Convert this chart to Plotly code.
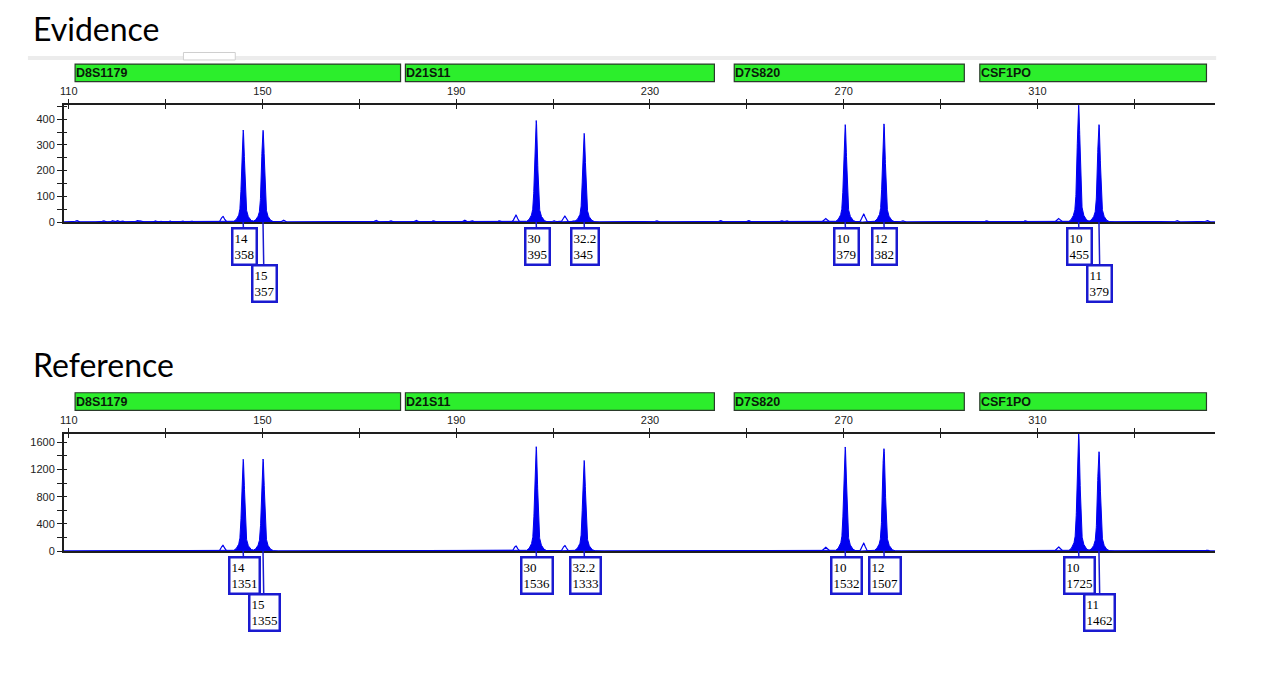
import numpy as np
import plotly.graph_objects as go

# ---------------- data ----------------
panels = ["Evidence", "Reference"]

markers = ["D8S1179", "D21S11", "D7S820", "CSF1PO"]
marker_start = [111.3, 179.5, 247.4, 298.1]
marker_end = [178.5, 243.3, 294.9, 344.9]

alleles = ["14", "15", "30", "32.2", "10", "12", "10", "11"]
allele_size = [146.0, 150.1, 206.5, 216.4, 270.3, 278.3, 318.5, 322.7]
evidence_height = [358, 357, 395, 345, 379, 382, 455, 379]
reference_height = [1351, 1355, 1536, 1333, 1532, 1507, 1725, 1462]

stutter_size = [141.8, 202.3, 212.4, 266.2, 274.1, 314.3]
evidence_stutter = [22, 27, 23, 14, 31, 14]
reference_stutter = [85, 75, 82, 58, 115, 62]

evidence_noise_size = [111.6, 117.2, 119.0, 120.0, 121.0, 124.1, 124.8, 127.8,
                       128.9, 130.9, 133.5, 135.4, 154.3, 173.4, 176.5, 181.7,
                       185.3, 191.7, 193.2, 198.9, 210.2, 211.2, 214.3, 231.4,
                       244.5, 250.3, 257.2, 258.2, 282.2, 299.5, 307.5, 338.8,
                       345.0]
evidence_noise = [6, 5, 6, 6, 5, 6, 5, 5, 4, 4, 4, 4, 8, 7, 5, 7, 5, 8, 5, 5,
                  5, 4, 5, 5, 6, 6, 5, 5, 5, 5, 5, 6, 6]
reference_noise_size = [345.0]
reference_noise = [14]

x_major = [110, 150, 190, 230, 270, 310]
x_minor = [130, 170, 210, 250, 290, 330]
evidence_ymajor = [0, 100, 200, 300, 400]
evidence_yminor = [50, 150, 250, 350, 450]
reference_ymajor = [0, 400, 800, 1200, 1600]
reference_yminor = [200, 600, 1000, 1400]

# ---------------- styling ----------------
W, H = 1274, 674
BLUE = "#0000f0"
BOX_BLUE = "#1a1ad0"
GREEN = "#2cee2c"
AXIS = "#1e1e1e"
TICKFONT = dict(family="Liberation Sans, Arial, sans-serif", size=11, color="#222")

X_RANGE = [108.97, 346.7]
x_dom = [60 / W, 1215 / W]
# plot areas (pixel rows: axis line top, zero baseline)
rows = [(106, 224), (437.7, 556)]

grid = np.arange(X_RANGE[0], X_RANGE[1], 0.02)


def gauss(c, h, s):
    return h * np.exp(-0.5 * ((grid - c) / s) ** 2)


def called_signal(heights):
    y = np.zeros_like(grid)
    for c, h in zip(allele_size, heights):
        y += 0.86 * gauss(c, h, 0.28) + 0.14 * gauss(c, h, 0.8)
    return y


def small_signal(sizes, heights, s):
    y = np.zeros_like(grid)
    for c, h in zip(sizes, heights):
        y += gauss(c, h, s)
    return y


fig = go.Figure()

panel_data = [
    (evidence_height, evidence_stutter, evidence_noise_size, evidence_noise,
     evidence_ymajor, evidence_yminor),
    (reference_height, reference_stutter, reference_noise_size, reference_noise,
     reference_ymajor, reference_yminor),
]

annotations = []
shapes = []

for i, (heights, stut, nsz, nh, ymaj, ymin) in enumerate(panel_data):
    xa = "x" if i == 0 else "x2"
    ya = "y" if i == 0 else "y2"
    xo = "x3" if i == 0 else "x4"
    yo = "y3" if i == 0 else "y4"
    top_px, base_px = rows[i]
    ymax = max(heights)

    # baseline signal (stutter + noise), outline only
    other = small_signal(stutter_size, stut, 0.32) + small_signal(nsz, nh, 0.22)
    fig.add_trace(go.Scatter(x=grid, y=other, xaxis=xa, yaxis=ya, mode="lines",
                             line=dict(color=BLUE, width=1.2), hoverinfo="skip",
                             showlegend=False))
    # called allele peaks, filled
    fig.add_trace(go.Scatter(x=grid, y=called_signal(heights), xaxis=xa, yaxis=ya,
                             mode="lines", fill="tozeroy", fillcolor=BLUE,
                             line=dict(color=BLUE, width=1), hoverinfo="skip",
                             showlegend=False))
    # invisible traces for the overlaid tick axes
    fig.add_trace(go.Scatter(x=[X_RANGE[0]], y=[0], xaxis=xo, yaxis=ya, mode="markers",
                             marker=dict(opacity=0), hoverinfo="skip", showlegend=False))
    fig.add_trace(go.Scatter(x=[X_RANGE[0]], y=[0], xaxis=xa, yaxis=yo, mode="markers",
                             marker=dict(opacity=0), hoverinfo="skip", showlegend=False))

    ydom = [(H - base_px) / H, (H - top_px) / H]
    ax_common = dict(showgrid=False, zeroline=False, fixedrange=True)

    fig.layout[("xaxis" if i == 0 else "xaxis2")] = dict(
        domain=x_dom, range=X_RANGE, anchor=ya, side="top", showline=True,
        linecolor=AXIS, linewidth=1.6, mirror=True, ticks="outside", ticklen=4,
        tickwidth=1.3, tickcolor=AXIS, tickmode="array", tickvals=x_major,
        ticktext=[str(v) for v in x_major], tickfont=TICKFONT, layer="above traces",
        minor=dict(tickmode="array", tickvals=x_minor, ticks="outside", ticklen=4,
                   tickwidth=1.3, tickcolor=AXIS, showgrid=False),
        **ax_common)
    fig.layout[("xaxis3" if i == 0 else "xaxis4")] = dict(
        overlaying=xa, range=X_RANGE, anchor=ya, side="top", showline=False,
        ticks="inside", ticklen=4, tickwidth=1.3, tickcolor=AXIS, tickmode="array",
        tickvals=x_major, showticklabels=False,
        minor=dict(tickmode="array", tickvals=x_minor, ticks="inside", ticklen=4,
                   tickwidth=1.3, tickcolor=AXIS, showgrid=False),
        **ax_common)
    fig.layout[("yaxis" if i == 0 else "yaxis2")] = dict(
        domain=ydom, range=[0, ymax], anchor=xa, showline=True, linecolor=AXIS,
        linewidth=1.6, ticks="outside", ticklen=5, tickwidth=1.3, tickcolor=AXIS,
        tickmode="array", tickvals=ymaj, ticktext=[str(v) for v in ymaj],
        tickfont=TICKFONT, layer="above traces",
        minor=dict(tickmode="array", tickvals=ymin, ticks="outside", ticklen=5,
                   tickwidth=1.3, tickcolor=AXIS, showgrid=False),
        **ax_common)
    fig.layout[("yaxis3" if i == 0 else "yaxis4")] = dict(
        overlaying=ya, range=[0, ymax], anchor=xa, showline=False,
        ticks="inside", ticklen=3, tickwidth=1.3, tickcolor=AXIS, tickmode="array",
        tickvals=ymaj + ymin, showticklabels=False, **ax_common)

    # panel title
    title_px = 28.5 if i == 0 else 367.5
    annotations.append(dict(text=panels[i], xref="paper", yref="paper",
                            x=27 / W, y=(H - title_px) / H, xanchor="left",
                            yanchor="middle", showarrow=False,
                            font=dict(family="Lato, Open Sans, sans-serif", size=32,
                                      color="#000")))

    # marker bins (green bars above the axis)
    for name, s, e in zip(markers, marker_start, marker_end):
        shapes.append(dict(type="rect", xref=xa, yref=f"{ya} domain",
                           x0=s, x1=e, y0=1.2, y1=1.35, fillcolor=GREEN,
                           line=dict(color="#2a3a2a", width=1.2), layer="above"))
        annotations.append(dict(text=f"<b>{name}</b>", xref=xa, yref=f"{ya} domain",
                                x=s, y=1.275, xanchor="left", yanchor="middle",
                                showarrow=False, xshift=-1,
                                font=dict(family="Liberation Sans, Arial", size=12.5,
                                          color="#0a1a0a")))

    # allele call boxes
    prev = None
    for lab, sz, h in zip(alleles, allele_size, heights):
        tier = 1 if (prev is not None and sz - prev < 6) else 0
        prev = sz if tier == 0 else None
        annotations.append(dict(
            text=f"{lab}<br>{h}", x=sz, y=0, xref=xa, yref=ya, showarrow=True,
            arrowhead=0, arrowwidth=1.5, arrowcolor=BOX_BLUE, ax=1,
            ay=24 if tier == 0 else 61, align="left", bgcolor="white",
            bordercolor=BOX_BLUE, borderwidth=2.5, borderpad=1,
            font=dict(family="Liberation Serif, Times New Roman, serif", size=13,
                      color="#000")))

# grey window strip at the very top of the evidence screenshot
shapes.append(dict(type="rect", xref="paper", yref="paper", x0=24 / W, x1=1216 / W,
                   y0=(H - 60.5) / H, y1=(H - 56.5) / H, fillcolor="#ececec",
                   line=dict(width=0), layer="below"))
shapes.append(dict(type="rect", xref="paper", yref="paper", x0=180 / W, x1=232 / W,
                   y0=(H - 60.5) / H, y1=(H - 53) / H, fillcolor="white",
                   line=dict(color="#cfcfcf", width=1), layer="below"))

fig.update_layout(width=W, height=H, margin=dict(l=0, r=0, t=0, b=0),
                  paper_bgcolor="white", plot_bgcolor="white", showlegend=False,
                  annotations=annotations, shapes=shapes)

fig.write_html("out.html", config={"displayModeBar": False},
               post_script="document.body.style.margin='0';document.body.style.overflow='hidden';")
